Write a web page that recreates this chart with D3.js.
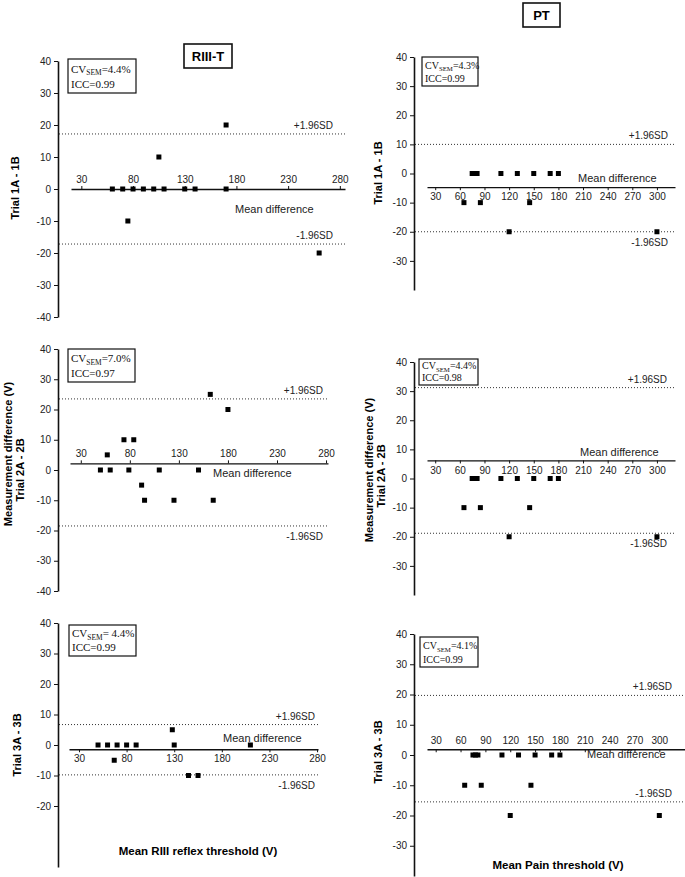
<!DOCTYPE html>
<html>
<head>
<meta charset="utf-8">
<script src="https://cdn.jsdelivr.net/npm/d3@7"></script>
<style>
  body { margin: 0; background: #fff; }
  svg { display: block; }
</style>
</head>
<body>
<div id="chart"></div>
<script>
// tick labels
const riiiTicks = [30, 80, 130, 180, 230, 280];
const ptTicks = [30, 60, 90, 120, 150, 180, 210, 240, 270, 300];
const diffTicksFull = [-40, -30, -20, -10, 0, 10, 20, 30, 40];
const diffTicksPt = [-30, -20, -10, 0, 10, 20, 30, 40];
const diffTicksShort = [-20, -10, 0, 10, 20, 30, 40];

// RIII-T trials: mean threshold (V) and difference (V)
const riii1Mean = [60, 70, 80, 90, 100, 110, 130, 140, 170, 105, 170, 75, 260];
const riii1Diff = [0, 0, 0, 0, 0, 0, 0, 0, 0, 10, 20, -10, -20];
const riii2Mean = [50, 57, 60, 74, 79, 84, 92, 95, 110, 125, 150, 162, 165, 180];
const riii2Diff = [0, 5, 0, 10, 0, 10, -5, -10, 0, -10, 0, 25, -10, 20];
const riii3Mean = [50, 60, 70, 80, 90, 67, 128, 130, 145, 155, 210];
const riii3Diff = [0, 0, 0, 0, 0, -5, 5, 0, -10, -10, 0];

// PT trials
const pt1Mean = [75, 78, 81, 110, 130, 150, 170, 180, 65, 85, 145, 120, 300];
const pt1Diff = [0, 0, 0, 0, 0, 0, 0, 0, -10, -10, -10, -20, -20];
const pt2Mean = [75, 78, 81, 110, 130, 150, 170, 180, 65, 85, 145, 120, 300];
const pt2Diff = [0, 0, 0, 0, 0, 0, 0, 0, -10, -10, -10, -20, -20];
const pt3Mean = [75, 78, 81, 110, 130, 150, 170, 180, 65, 85, 145, 120, 300];
const pt3Diff = [0, 0, 0, 0, 0, 0, 0, 0, -10, -10, -10, -20, -20];

// per panel: riii1, pt1, riii2, pt2, riii3, pt3
const meanDiff = [0, -4.7, 2.2, 6.2, -1.4, 1.9];
const upperLimit = [17.2, 10, 23.5, 31.2, 6.7, 19.7];
const lowerLimit = [-17.2, -20, -18.5, -18.8, -9.8, -15.5];
const cvSem = ["=4.4%", "=4.3%", "=7.0%", "=4.4%", "= 4.4%", "=4.1%"];
const iccValues = ["ICC=0.99", "ICC=0.99", "ICC=0.97", "ICC=0.98", "ICC=0.99", "ICC=0.99"];
const trialLabels = ["Trial 1A - 1B", "Trial 1A - 1B", "Trial 2A - 2B", "Trial 2A - 2B", "Trial 3A - 3B", "Trial 3A - 3B"];

const width = 685, height = 877;
const sans = "'Liberation Sans', Arial, Helvetica, sans-serif";
const serif = "'Liberation Serif', 'Times New Roman', serif";

const svg = d3.select("#chart").append("svg")
  .attr("width", width).attr("height", height)
  .style("background", "#fff");

// layout of each panel (pixels)
const panels = [
  { mean: riii1Mean, diff: riii1Diff, xTicks: riiiTicks, yTicks: diffTicksFull,
    xd: [20, 285], xr: [71, 345], yr: [317, 61], yx: 58, axis: "top", tickDir: 1,
    sdX: 333, lowAbove: true, mdX: 235, mdDy: 24, box: [68, 59, 68, 34], fs: 11,
    yLab: [15, 188] },
  { mean: pt1Mean, diff: pt1Diff, xTicks: ptTicks, yTicks: diffTicksPt,
    xd: [20, 322], xr: [427, 675], yr: [290, 57], yx: 414, axis: "bottom", tickDir: 1,
    sdX: 668, lowAbove: false, mdX: 578, mdDy: -5, box: [422, 57, 56, 29], fs: 10,
    yLab: [378, 173] },
  { mean: riii2Mean, diff: riii2Diff, xTicks: riiiTicks, yTicks: diffTicksFull,
    xd: [19, 282], xr: [70, 328], yr: [591, 349], yx: 58, axis: "top", tickDir: 1,
    sdX: 323, lowAbove: false, mdX: 213, mdDy: 14, box: [68, 349, 67, 33], fs: 11,
    yLab: [20, 470], yLab2: [8, 454] },
  { mean: pt2Mean, diff: pt2Diff, xTicks: ptTicks, yTicks: diffTicksPt,
    xd: [20, 322], xr: [427, 675], yr: [595, 362], yx: 414, axis: "bottom", tickDir: 1,
    sdX: 667, lowAbove: false, mdX: 580, mdDy: -4, box: [419, 359, 59, 26], fs: 10,
    yLab: [381, 476], yLab2: [369, 470] },
  { mean: riii3Mean, diff: riii3Diff, xTicks: riiiTicks, yTicks: diffTicksShort,
    xd: [19.5, 281], xr: [69, 318], yr: [867, 623], yx: 58, axis: "bottom", tickDir: 1,
    sdX: 315, lowAbove: false, mdX: 223, mdDy: -7, box: [69, 625, 67, 31], fs: 11,
    yLab: [17, 745], xLab: ["Mean RIII reflex threshold (V)", 198, 855] },
  { mean: pt3Mean, diff: pt3Diff, xTicks: ptTicks, yTicks: diffTicksPt,
    xd: [19.5, 331], xr: [427, 685], yr: [876, 634], yx: 414, axis: "top", tickDir: -1,
    sdX: 672, lowAbove: true, mdX: 587, mdDy: 9, box: [420, 637, 58, 30], fs: 10,
    yLab: [378, 752], xLab: ["Mean Pain threshold (V)", 558, 869] }
];

function styleAxis(sel) {
  sel.selectAll("text").style("font-family", sans).style("font-size", "10px").attr("fill", "#222");
  sel.selectAll(".tick line").attr("stroke", "#111");
}

// plain hyphen for negatives, as in the original figure
const fmt = d => String(d);

panels.forEach((p, i) => {
  const x = d3.scaleLinear().domain(p.xd).range(p.xr);
  const y = d3.scaleLinear().domain([-40, 40]).range(p.yr);
  const g = svg.append("g");

  // +/-1.96SD dotted lines
  [upperLimit[i], lowerLimit[i]].forEach(v => {
    g.append("line")
      .attr("x1", p.yx + 1).attr("x2", p.xr[1])
      .attr("y1", y(v)).attr("y2", y(v))
      .attr("stroke", "#333").attr("stroke-width", 1)
      .attr("stroke-dasharray", "1,2");
  });

  // y axis
  const ya = g.append("g")
    .attr("transform", `translate(${p.yx},0)`)
    .call(d3.axisLeft(y).tickValues(p.yTicks).tickSize(4).tickSizeOuter(0).tickPadding(3).tickFormat(fmt));
  ya.select(".domain").attr("stroke", "#111").attr("stroke-width", 1.6);
  styleAxis(ya);

  // x axis drawn at the mean difference
  const base = p.axis === "top" ? d3.axisTop(x) : d3.axisBottom(x);
  const xa = g.append("g")
    .attr("transform", `translate(0,${y(meanDiff[i])})`)
    .call(base.tickValues(p.xTicks).tickFormat(fmt).tickSizeInner(3 * p.tickDir).tickSizeOuter(0).tickPadding(p.tickDir < 0 ? 5 : 3));
  xa.select(".domain").attr("stroke", "#111").attr("stroke-width", 1.3);
  styleAxis(xa);

  // points
  g.append("g").selectAll("rect")
    .data(p.mean.map((m, k) => [m, p.diff[k]]))
    .join("rect")
    .attr("x", d => x(d[0]) - 2.5).attr("y", d => y(d[1]) - 2.5)
    .attr("width", 5).attr("height", 5)
    .attr("fill", "#000");

  // labels of lines
  g.append("text").attr("x", p.sdX).attr("y", y(upperLimit[i]) - 5)
    .attr("text-anchor", "end").style("font-family", sans).style("font-size", "10px")
    .attr("fill", "#222").text("+1.96SD");
  g.append("text").attr("x", p.sdX).attr("y", y(lowerLimit[i]) + (p.lowAbove ? -5 : 14))
    .attr("text-anchor", "end").style("font-family", sans).style("font-size", "10px")
    .attr("fill", "#222").text("-1.96SD");
  g.append("text").attr("x", p.mdX).attr("y", y(meanDiff[i]) + p.mdDy)
    .style("font-family", sans).style("font-size", "11px")
    .attr("fill", "#222").text("Mean difference");

  // CV / ICC box
  const [bx, by, bw, bh] = p.box;
  g.append("rect").attr("x", bx).attr("y", by).attr("width", bw).attr("height", bh)
    .attr("fill", "#fff").attr("stroke", "#111").attr("stroke-width", 1.2);
  const t = g.append("text").attr("x", bx + 3).attr("y", by + bh * 0.4)
    .style("font-family", serif).style("font-size", p.fs + "px").attr("fill", "#111");
  t.append("tspan").text("CV");
  t.append("tspan").attr("dy", 2.5).style("font-size", (p.fs * 0.68) + "px").text("SEM");
  t.append("tspan").attr("dy", -2.5).text(cvSem[i]);
  g.append("text").attr("x", bx + 3).attr("y", by + bh * 0.85)
    .style("font-family", serif).style("font-size", p.fs + "px").attr("fill", "#111")
    .text(iccValues[i]);

  // axis titles
  g.append("text")
    .attr("transform", `translate(${p.yLab[0]},${p.yLab[1]}) rotate(-90)`)
    .attr("text-anchor", "middle").attr("dy", "0.35em")
    .style("font-family", sans).style("font-size", "11px").style("font-weight", "bold")
    .text(trialLabels[i]);
  if (p.yLab2) {
    g.append("text")
      .attr("transform", `translate(${p.yLab2[0]},${p.yLab2[1]}) rotate(-90)`)
      .attr("text-anchor", "middle").attr("dy", "0.35em")
      .style("font-family", sans).style("font-size", "11px").style("font-weight", "bold")
      .text("Measurement difference (V)");
  }
  if (p.xLab) {
    g.append("text").attr("x", p.xLab[1]).attr("y", p.xLab[2])
      .attr("text-anchor", "middle")
      .style("font-family", sans).style("font-size", "11.5px").style("font-weight", "bold")
      .text(p.xLab[0]);
  }
});

// column headers
[["RIII-T", 184, 44, 48, 24], ["PT", 523, 3, 37, 24]].forEach(h => {
  svg.append("rect").attr("x", h[1]).attr("y", h[2]).attr("width", h[3]).attr("height", h[4])
    .attr("fill", "#fff").attr("stroke", "#111").attr("stroke-width", 1.6);
  svg.append("text").attr("x", h[1] + h[3] / 2).attr("y", h[2] + h[4] / 2)
    .attr("dy", "0.36em").attr("text-anchor", "middle")
    .style("font-family", sans).style("font-size", "13px").style("font-weight", "bold")
    .text(h[0]);
});
</script>
</body>
</html>
